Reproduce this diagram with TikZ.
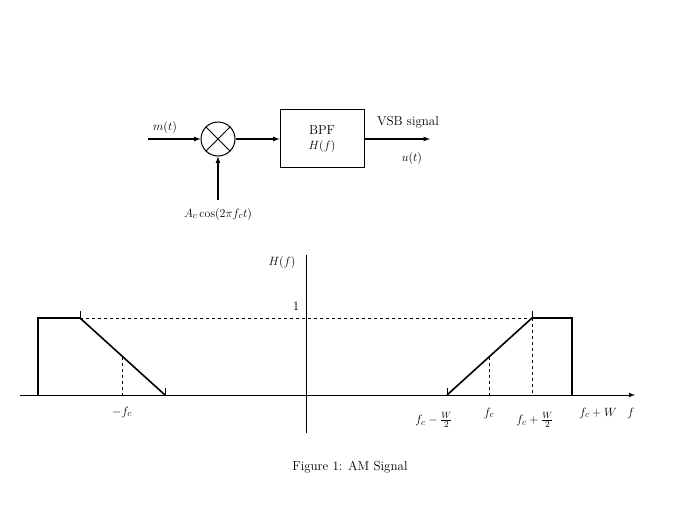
\documentclass[tikz,border=0pt]{standalone}
\usetikzlibrary{positioning}
\begin{document}
\begin{tikzpicture}[x=1pt,y=-1pt,
  wire/.style={line width=1.2pt,-latex},
  resp/.style={line width=1.6pt},
  guide/.style={dashed,line width=0.6pt},
  lbl/.style={inner sep=0pt,font=\fontsize{13}{14}\selectfont}]
\useasboundingbox (0,0) rectangle (700,529);
% block diagram
\node (in) at (148,139) {};
\node[draw,circle,line width=1pt,minimum size=34pt,inner sep=0] (mix) at (218,139) {};
\draw[line width=1pt] (mix.45) -- (mix.225) (mix.135) -- (mix.315);
\node[draw,line width=1pt,minimum width=84pt,minimum height=58pt,align=center,
  font=\fontsize{13}{15}\selectfont] (bpf) at (322,139) {BPF\\$H(f)$};
\coordinate (out) at (430,139);
\coordinate (osc) at (218,200);
\draw[wire] (in.center) -- (mix);
\draw[wire] (mix) -- (bpf);
\draw[wire] (bpf) -- (out);
\draw[wire] (osc) -- (mix);
\node[lbl] (mlab) at (165,128) {$m(t)$};
\node[lbl] (vsb) at (408,122) {VSB signal};
\node[lbl] (ulab) at (412,159) {$u(t)$};
\node[lbl] (carrier) at (218,214) {$A_c\cos(2\pi f_c t)$};
% spectrum
\coordinate (xa) at (20,395);
\coordinate (xb) at (635,395);
\coordinate (ya) at (306,433);
\coordinate (yb) at (306,255);
\draw[line width=1pt,-latex] (xa) -- (xb);
\draw[line width=1pt] (ya) -- (yb);
\node[lbl] (hlab) at (282,262) {$H(f)$};
\node[lbl] (one) at (296,306) {1};
\draw[resp] (38,395) -- (38,318) -- (80,318) -- (165,395);
\draw[resp] (447,395) -- (532,318) -- (572,318) -- (572,395);
\draw[guide] (80,318) -- (532,318);
\draw[guide] (122,357) -- (122,395);
\draw[guide] (489,357) -- (489,395);
\draw[guide] (532,318) -- (532,395);
\foreach \x/\y in {80/318,165/395,447/395,532/318} \draw[line width=0.6pt] (\x,\y-7) -- (\x,\y);
\node[lbl] (mfc) at (122,412) {$-f_c$};
\node[lbl] (fl) at (434,420) {$f_c-\frac{W}{2}$};
\node[lbl] (fc) at (489,413) {$f_c$};
\node[lbl] (fu) at (535,420) {$f_c+\frac{W}{2}$};
\node[lbl] (fw) at (598,413) {$f_c+W$};
\node[lbl] (fax) at (631,413) {$f$};
\node[font=\fontsize{13}{14}\selectfont] (cap) at (350,467) {Figure 1: AM Signal};
\end{tikzpicture}
\end{document}
